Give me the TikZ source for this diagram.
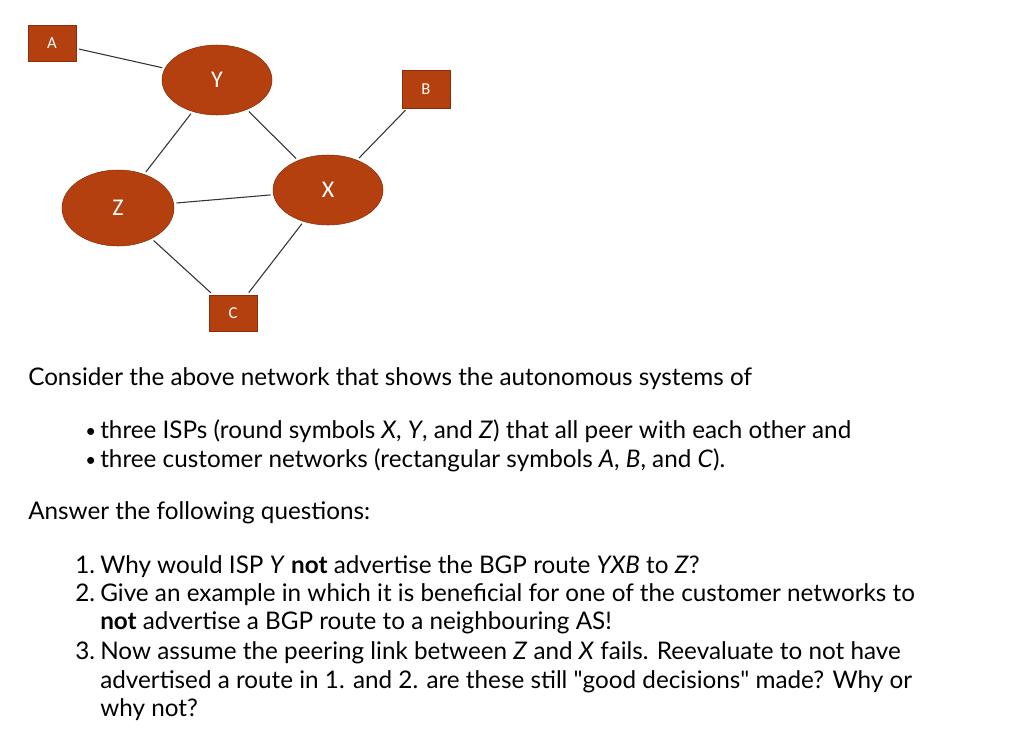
\documentclass[tikz,border=0pt]{standalone}
\usepackage{fontspec}
\usetikzlibrary{shapes.geometric}
\setmainfont{Lato}
\newfontfamily\lblfont{Carlito}
\begin{document}
\begin{tikzpicture}[x=0.75pt,y=-0.75pt]
\definecolor{fillc}{HTML}{B5400F}
\definecolor{edgec}{HTML}{8A2E08}
\tikzset{
  isp/.style={ellipse,draw=edgec,fill=fillc,minimum width=110*0.75pt,minimum height=70*0.75pt,inner sep=0pt,font=\lblfont\fontsize{18}{20}\selectfont,text=white},
  cust/.style={rectangle,draw=edgec,fill=fillc,minimum width=48*0.75pt,minimum height=36*0.75pt,inner sep=0pt,font=\lblfont\fontsize{12.5}{14}\selectfont,text=white},
  link/.style={draw=black!80,line width=0.8pt,shorten <=2pt,shorten >=2pt},
  txt/.style={anchor=base west,inner sep=0pt,font=\fontsize{18.2}{20}\selectfont},
  bul/.style={anchor=base west,inner sep=0pt,font=\fontsize{14}{16}\selectfont}
}
\useasboundingbox (0,0) rectangle (1024,736);
\node[cust] (A) at (52,43) {A};
\node[isp] (Y) at (217,80) {Y};
\node[cust,minimum height=38*0.75pt] (B) at (426,89) {B};
\node[isp] (X) at (328,190) {X};
\node[isp,minimum width=112*0.75pt,minimum height=76*0.75pt] (Z) at (118,208) {Z};
\node[cust] (C) at (233,313) {C};
\draw[link] (A) -- (Y);
\draw[link] (Y) -- (Z);
\draw[link] (Y) -- (X);
\draw[link] (B) -- (X);
\draw[link] (Z) -- (X);
\draw[link] (Z) -- (C);
\draw[link] (X) -- (C);
\node[txt] (t1) at (28,385) {Consider the above network that shows the autonomous systems of};
\node[bul] (b1) at (85,437) {•};
\node[txt] (t2) at (100,438) {three ISPs (round symbols \textit{X}, \textit{Y}, and \textit{Z}) that all peer with each other and};
\node[bul] (b2) at (85,466) {•};
\node[txt] (t3) at (100,467) {three customer networks (rectangular symbols \textit{A}, \textit{B}, and \textit{C}).};
\node[txt] (t4) at (28,519) {Answer the following questions:};
\node[txt] (n1) at (75,573) {1.};
\node[txt] (t5) at (100,573) {Why would ISP \textit{Y} \textbf{not} advertise the BGP route \textit{YXB} to \textit{Z}?};
\node[txt] (n2) at (75,601) {2.};
\node[txt] (t6) at (100,601) {Give an example in which it is beneficial for one of the customer networks to};
\node[txt] (t7) at (100,629) {\textbf{not} advertise a BGP route to a neighbouring AS!};
\node[txt] (n3) at (75,659) {3.};
\node[txt] (t8) at (100,659) {Now assume the peering link between \textit{Z} and \textit{X} fails. Reevaluate to not have};
\node[txt] (t9) at (100,688) {advertised a route in 1. and 2. are these still \textquotedbl good decisions\textquotedbl{} made? Why or};
\node[txt] (t10) at (100,716) {why not?};
\end{tikzpicture}
\end{document}
